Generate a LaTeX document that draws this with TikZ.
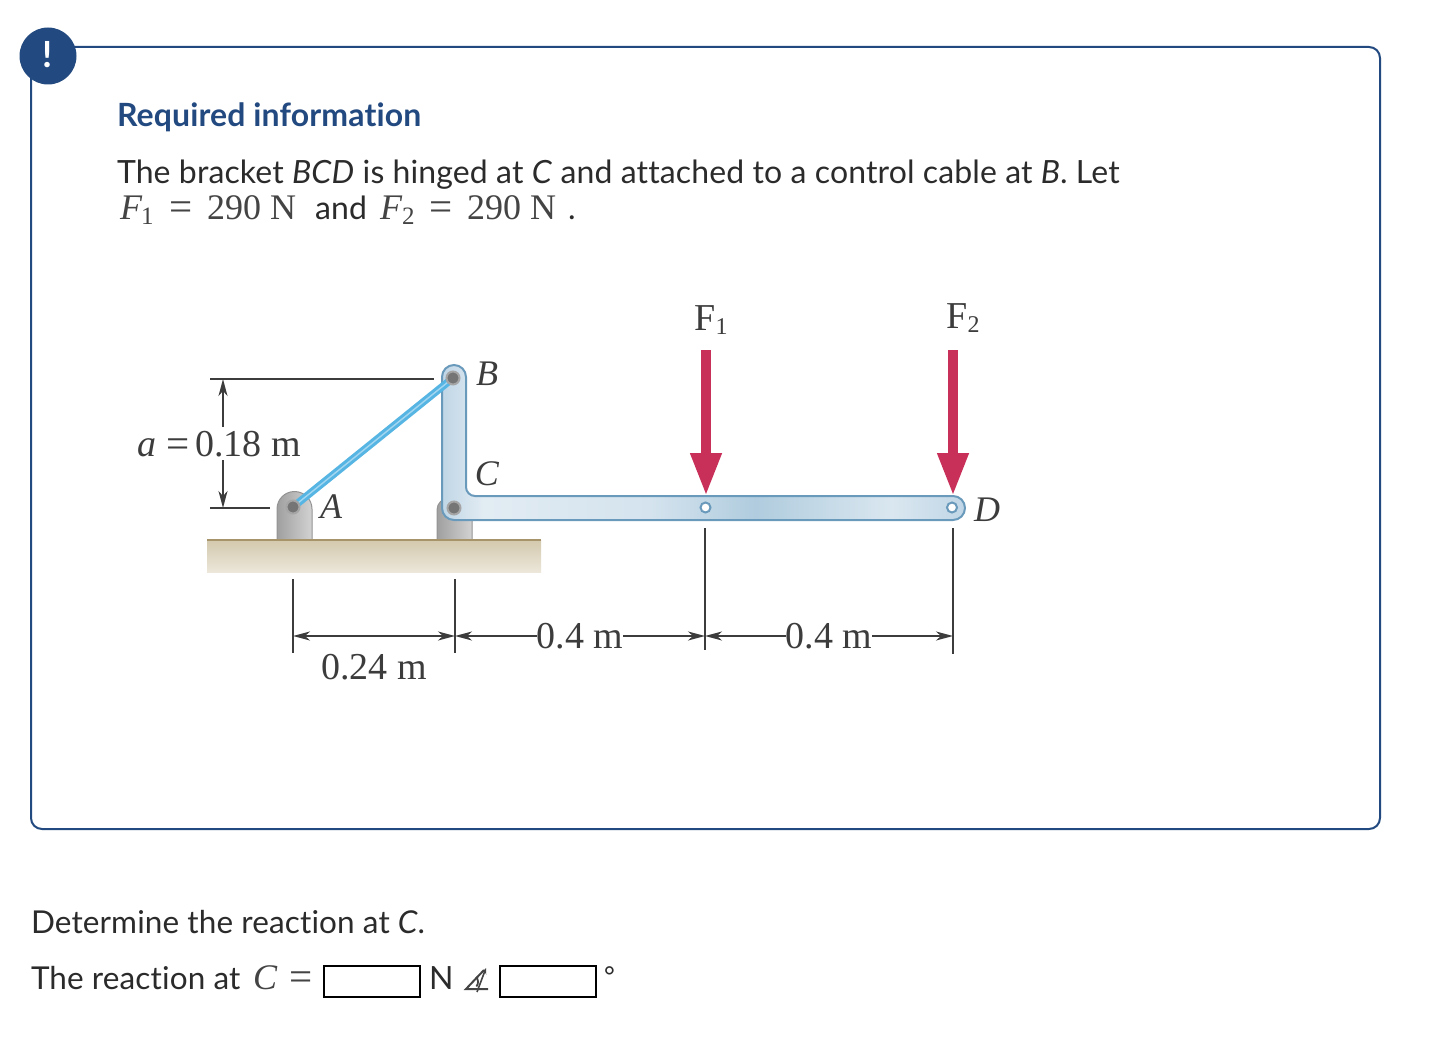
\documentclass[tikz,border=0pt]{standalone}
\usepackage{fontspec}
\setmainfont{Lato}[LetterSpace=0.4,Ligatures=CommonOff]
\newfontfamily\mth{Liberation Serif}
\usetikzlibrary{arrows.meta}
\definecolor{navy}{HTML}{234A80}
\definecolor{ink}{HTML}{2B2B2B}
\definecolor{mgray}{HTML}{444444}
\definecolor{dimc}{HTML}{3C3C3C}
\definecolor{brk}{HTML}{6A9ABB}
\definecolor{force}{HTML}{C8305A}
\definecolor{cablec}{HTML}{57B5E3}
\definecolor{brkA}{HTML}{C0D6E6}
\definecolor{brkB}{HTML}{E2ECF3}
\definecolor{brkC}{HTML}{D4E3EE}
\definecolor{brkD}{HTML}{B0CCDE}
\definecolor{brkE}{HTML}{DAE7F0}
\definecolor{groundA}{HTML}{D3C9AE}
\definecolor{groundB}{HTML}{ECE7DA}
\definecolor{groundL}{HTML}{A8946A}
\definecolor{pinfill}{HTML}{757575}
\definecolor{pinring}{HTML}{A5A5A5}
\pgfdeclarehorizontalshading{brkshade}{100bp}{
  color(0bp)=(brkA); color(25bp)=(brkA); color(29bp)=(brkB); color(45bp)=(brkC);
  color(55bp)=(brkD); color(68bp)=(brkE); color(75bp)=(brkA); color(100bp)=(brkA)}
\tikzset{
  x=1pt,y=-1pt,
  txt/.style={anchor=base west,inner sep=0pt,outer sep=0pt,text=ink,font=\fontsize{32}{36}\selectfont},
  qtxt/.style={txt,font=\fontsize{31.5}{36}\selectfont},
  mtxt/.style={anchor=base west,inner sep=0pt,outer sep=0pt,text=mgray,font=\mth\fontsize{36}{40}\selectfont},
  eqtxt/.style={mtxt,font=\mth\fontsize{41}{44}\selectfont},
  lbl/.style={anchor=center,inner sep=0pt,outer sep=0pt,text=dimc,font=\mth\fontsize{38}{42}\selectfont},
  ilbl/.style={lbl,font=\mth\itshape\fontsize{36}{40}\selectfont},
  dimline/.style={draw=dimc,line width=1.6pt},
  dimarrow/.style={dimline,-{Stealth[length=17pt,width=9pt,inset=5pt]}},
  pin/.style={circle,draw=pinring,fill=pinfill,line width=2pt,inner sep=0pt,minimum size=13pt},
  hole/.style={circle,draw=brk,fill=white,line width=2pt,inner sep=0pt,minimum size=10pt},
  forcearrow/.style={force,line width=10pt,-{Triangle[length=43pt,width=29pt]}},
  support/.style={draw=gray!85,line width=1pt,left color=gray!75,right color=gray!35},
  inbox/.style={draw=black,line width=1.6pt,fill=white,inner sep=0pt,minimum width=96pt,minimum height=31pt}
}
\begin{document}
\begin{tikzpicture}
\useasboundingbox (0,0) rectangle (1436,1046);
% frame
\draw[navy,line width=2pt,rounded corners=11pt] (31,47) rectangle (1380,829);
\node[circle,fill=navy,minimum size=57pt,inner sep=0pt] (badge) at (48,56) {};
\node[inner sep=0pt,text=white,font=\bfseries\fontsize{36}{38}\selectfont] (bang) at (48,55) {!};
% text
\node[txt,text=navy,font=\bfseries\fontsize{32}{36}\selectfont] (title) at (117,127) {Required information};
\node[txt] (line1) at (117,183) {The bracket \textit{BCD} is hinged at \textit{C} and attached to a control cable at \textit{B}. Let};
\node[mtxt] (f1) at (120,219) {\itshape F};
\node[mtxt,font=\mth\fontsize{25}{30}\selectfont] (f1s) at (141,225) {1};
\node[eqtxt] (eq1) at (169,220) {=};
\node[mtxt] (v1) at (207,219) {290 N};
\node[txt] (and) at (315,219) {and};
\node[mtxt] (f2) at (380,219) {\itshape F};
\node[mtxt,font=\mth\fontsize{25}{30}\selectfont] (f2s) at (402,225) {2};
\node[eqtxt] (eq2) at (429,220) {=};
\node[mtxt] (v2) at (467,219) {290 N};
\node[txt] (per) at (568,219) {.};
% ground and supports
\node[inner sep=0pt,minimum width=334pt,minimum height=32pt,top color=groundA,bottom color=groundB,anchor=north west] (ground) at (207,540) {};
\draw[support] (277,540) -- (277,509) arc[start angle=180,end angle=360,radius=17.5] -- (312,540) -- cycle;
\draw[support] (437,540) -- (437,510) arc[start angle=180,end angle=270,radius=12] -- (472,498) -- (472,540) -- cycle;
\draw[draw=groundL,line width=1.5pt] (ground.north west) -- (ground.north east);
% bracket
\path[shade,shading=brkshade,draw=brk,line width=2pt]
  (442,377) arc[start angle=180,end angle=360,radius=12] -- (466,487)
  arc[start angle=180,end angle=90,radius=9] -- (953,496)
  arc[start angle=-90,end angle=90,radius=12] -- (454,520)
  arc[start angle=90,end angle=180,radius=12] -- cycle;
% cable
\coordinate (Ac) at (293,507);
\coordinate (Bc) at (453,378);
\draw[cablec,line width=7.5pt] (Ac) -- (Bc);
\draw[cablec!55!white,line width=1.4pt] (Ac) -- (Bc);
\node[pin] (pinA) at (Ac) {};
\node[pin] (pinB) at (Bc) {};
\node[pin] (pinC) at (454,508) {};
\node[hole] (holeE) at (705.5,507.5) {};
\node[hole] (holeD) at (952,507.5) {};
% forces
\coordinate (F1s) at (706,350);
\coordinate (F2s) at (953,350);
\coordinate (F1t) at (706,496);
\coordinate (F2t) at (953,496);
\draw[forcearrow] (F1s) -- (F1t);
\draw[forcearrow] (F2s) -- (F2t);
\node[lbl] (F1) at (711,320) {F\raisebox{-4pt}{\fontsize{24}{24}\selectfont 1}};
\node[lbl] (F2) at (963,318) {F\raisebox{-4pt}{\fontsize{24}{24}\selectfont 2}};
\node[ilbl] (B) at (487,374) {B};
\node[ilbl] (C) at (487,474) {C};
\node[ilbl] (A) at (331,507) {A};
\node[ilbl] (D) at (987,510) {D};
% height dimension
\coordinate (t1) at (210,379); \coordinate (t2) at (434,379);
\coordinate (b1) at (210,508); \coordinate (b2) at (270,508);
\draw[dimline] (t1) -- (t2);
\draw[dimline] (b1) -- (b2);
\coordinate (au) at (223,427); \coordinate (ad) at (223,460);
\draw[dimarrow] (au) -- (au |- t1);
\draw[dimarrow] (ad) -- (ad |- b1);
\node[lbl,anchor=base west] (adima) at (137,456) {\itshape a};
\node[lbl,anchor=base west,font=\mth\fontsize{41}{44}\selectfont] (adimeq) at (166,457) {=};
\node[lbl,anchor=base west] (adim) at (195,456) {0.18 m};
% lower dimensions
\coordinate (ta1) at (293,579); \coordinate (ta2) at (293,653);
\coordinate (tc1) at (455,579); \coordinate (tc2) at (455,653);
\coordinate (te1) at (705,528); \coordinate (te2) at (705,650);
\coordinate (td1) at (953,528); \coordinate (td2) at (953,654);
\draw[dimline] (ta1) -- (ta2);
\draw[dimline] (tc1) -- (tc2);
\draw[dimline] (te1) -- (te2);
\draw[dimline] (td1) -- (td2);
\node[lbl] (d024) at (374,667) {0.24 m};
\node[lbl] (d04a) at (580,636) {0.4 m};
\node[lbl] (d04b) at (829,636) {0.4 m};
\coordinate (m) at (374,636);
\draw[dimarrow] (m) -- (ta1 |- m);
\draw[dimarrow] (m) -- (tc1 |- m);
\draw[dimarrow] (d04a.west) -- (tc1 |- d04a.west);
\draw[dimarrow] (d04a.east) -- (te1 |- d04a.east);
\draw[dimarrow] (d04b.west) -- (te1 |- d04b.west);
\draw[dimarrow] (d04b.east) -- (td1 |- d04b.east);
% question
\node[qtxt] (q) at (31,933) {Determine the reaction at \textit{C}.};
\node[qtxt] (r) at (31,989) {The reaction at};
\node[mtxt] (rc) at (253,989) {\itshape C};
\node[eqtxt] (req) at (289,990) {=};
\node[inbox] (box1) at (372,981.5) {};
\node[txt] (N) at (429,989) {N};
\node[inbox] (box2) at (548,981.5) {};
\node[txt,font=\fontsize{26}{30}\selectfont] (deg) at (604,985) {°};
% angle symbol
\draw[mgray,line width=2pt] (488,989) -- (466,989) -- (484,970);
\draw[mgray,line width=1.8pt] (476,977) arc[start angle=-45,end angle=40,radius=7];
\draw[mgray,line width=1.6pt,-{Stealth[length=6pt,width=5pt]}] (477,992) -- (486,968);
\end{tikzpicture}
\end{document}
